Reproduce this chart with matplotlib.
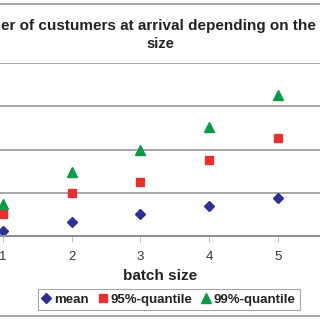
import matplotlib
matplotlib.use("Agg")
import matplotlib.pyplot as plt
from matplotlib.lines import Line2D

# data
batch = [1, 2, 3, 4, 5]
mean_vals = [0.12, 0.32, 0.50, 0.69, 0.87]
q95_vals = [0.50, 0.99, 1.24, 1.76, 2.27]
q99_vals = [0.74, 1.48, 2.00, 2.51, 3.26]
labels = ["mean", "95%-quantile", "99%-quantile"]
title_lines = ["er of custumers at arrival depending on the", "size"]

plt.rcParams["font.family"] = ["Liberation Sans", "DejaVu Sans"]

fig = plt.figure(figsize=(3.2, 3.2), dpi=100)
fig.patch.set_facecolor("white")

# plot area extends past the left/right edges of the crop
ax = fig.add_axes([-0.2055, 0.2625, 1.289, 0.5406])
ax.set_xlim(0, 6)
ax.set_ylim(0, 4)
ax.set_yticks([1, 2, 3, 4])
ax.set_yticklabels([])
ax.grid(axis="y", color="#a0a0a0", linewidth=1.3)
ax.set_axisbelow(True)
for s in ["left", "right", "top"]:
    ax.spines[s].set_visible(False)
ax.spines["bottom"].set_color("#909090")
ax.spines["bottom"].set_linewidth(1.5)
ax.tick_params(axis="y", length=0)
ax.tick_params(axis="x", length=4, color="#c0c0c0", labelsize=9.5,
               labelcolor="#333333", pad=7)
ax.set_xticks(batch)

ax.plot(batch, mean_vals, "D", color="#2e3192", ms=5.5, ls="none")
ax.plot(batch, q95_vals, "s", color="#e8312f", ms=6, ls="none")
ax.plot(batch, q99_vals, "^", color="#0a9a48", ms=6.5, ls="none")

ax.set_xlabel("batch size", fontsize=11, fontweight="bold", color="#222222")
ax.xaxis.set_label_coords((160 + 65.75) / 412.5, -0.19)

# title (the crop shows only part of the first line)
t1 = fig.text(1 / 320, 1 - 26 / 320, title_lines[0], ha="left", va="center",
              fontsize=10.5, fontweight="bold", color="#222222")
fig.canvas.draw()
w = t1.get_window_extent().width
t1.set_fontsize(10.5 * 315 / w)
fig.text(0.5, 1 - 44 / 320, title_lines[1], ha="center", va="center",
         fontsize=10.5, fontweight="bold", color="#222222")

# frame lines of the outer chart
for yy in [4, 316]:
    fig.add_artist(Line2D([0, 1], [1 - yy / 320] * 2, color="#a8a8a8", lw=1.5))

handles = [
    Line2D([], [], marker="D", color="#2e3192", ls="none", ms=5),
    Line2D([], [], marker="s", color="#e8312f", ls="none", ms=6),
    Line2D([], [], marker="^", color="#0a9a48", ls="none", ms=6.5),
]
leg = fig.legend(handles, labels, loc="center", bbox_to_anchor=(169 / 320, 1 - 299.5 / 320),
                 ncol=3, frameon=True, fancybox=False, edgecolor="#909090",
                 handlelength=0.6, handletextpad=0.25, columnspacing=0.8,
                 borderpad=0.3, prop={"weight": "bold", "size": 9.5})
leg.get_frame().set_linewidth(0.8)
for t in leg.get_texts():
    t.set_color("#222222")

fig.savefig("out.png", dpi=100)
